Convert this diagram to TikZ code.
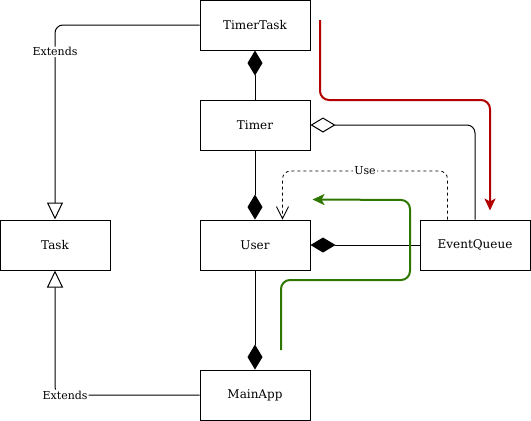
\documentclass[tikz,border=0pt]{standalone}
\usepackage{fontspec}
\setmainfont{DejaVu Serif}
\usetikzlibrary{arrows.meta}
\definecolor{redline}{HTML}{B20000}
\definecolor{greenline}{HTML}{2D7600}
\begin{document}
\begin{tikzpicture}[x=1pt,y=-1pt,
  box/.style={draw, line width=1pt, minimum width=110pt, minimum height=50pt, inner sep=0pt, font=\fontsize{12}{14}\selectfont},
  conn/.style={line width=1pt},
  comp/.style={conn, {Diamond[length=25pt,width=15pt]}-},
  agg/.style={conn, {Diamond[open,length=25pt,width=15pt,fill=white]}-},
  ext/.style={conn, rounded corners=8pt, -{Triangle[open,length=17pt,width=16pt,fill=white]}},
  usearrow/.style={line width=0.8pt, dashed, dash pattern=on 3pt off 3pt, rounded corners=8pt, -{Straight Barb[length=12pt,width=12pt]}},
  lbl/.style={fill=white, inner sep=1pt, font=\fontsize{11}{13}\selectfont},
  colarrow/.style={line width=2pt, rounded corners=9pt, -{Stealth[length=12pt,width=11pt,inset=3pt]}}
]
\useasboundingbox (0,0) rectangle (531,421);
\node[box] (timertask) at (255,25) {TimerTask};
\node[box] (timer) at (255,125) {Timer};
\node[box] (task) at (55,245) {Task};
\node[box] (user) at (255,245) {User};
\node[box] (eventqueue) at (475,245) {EventQueue};
\node[box] (mainapp) at (255,395) {MainApp};

% Extends
\draw[ext] (timertask.west) -| node[lbl, pos=0.569] (ext1) {Extends} (task.north);
\draw[ext] (mainapp.west) -| node[lbl, pos=0.465] (ext2) {Extends} (task.south);

% compositions
\draw[comp] (timertask.south) -- (timer.north);
\draw[comp] (user.north) -- (timer.south);
\draw[comp] (mainapp.north) -- (user.south);
\draw[comp] (user.east) -- (eventqueue.west);

% aggregation
\draw[agg, rounded corners=8pt] (timer.east) -| (eventqueue.north);

% use
\coordinate (usetop) at (365,171);
\draw[usearrow] ([xshift=28pt]eventqueue.north west) |- (usetop) -| ([xshift=83pt]user.north west);
\node[lbl, fill=white] (uselbl) at (usetop) {Use};

% red arrow
\coordinate (r0) at (320,20);
\coordinate (rend) at ([xshift=15pt,yshift=9pt]eventqueue.north);
\draw[colarrow, draw=redline, color=redline] (r0) |- (rend |- 0,100) -- (rend);

% green arrow
\coordinate (g0) at (281,350);
\coordinate (gend) at ([xshift=2pt,yshift=20pt]user.north east);
\draw[colarrow, draw=greenline, color=greenline] (g0) -- (281,280) -- (410,280) -- (410,200) -- (gend);
\end{tikzpicture}
\end{document}
